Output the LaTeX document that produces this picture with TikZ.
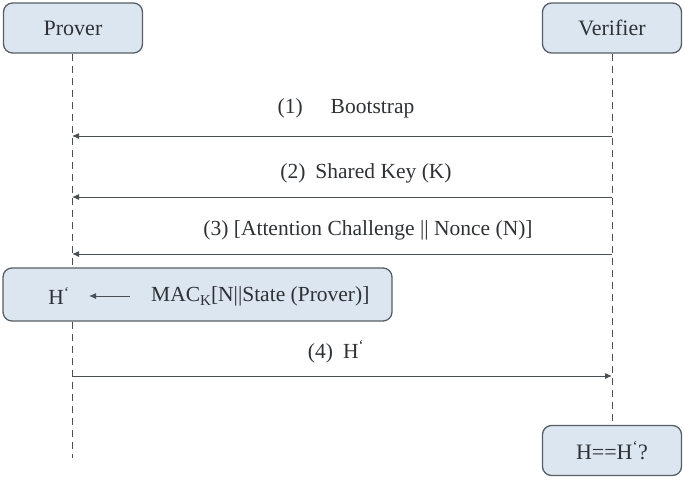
\documentclass[tikz,border=0pt]{standalone}
\usepackage{fontspec}
\setmainfont{Liberation Serif}
\usetikzlibrary{arrows.meta}
\definecolor{boxfill}{HTML}{DCE6F0}
\definecolor{boxline}{HTML}{575E66}
\definecolor{arrline}{HTML}{4A4F55}
\definecolor{txt}{HTML}{2E3135}
\begin{document}
\begin{tikzpicture}[x=1pt,y=-1pt,
  actor/.style={draw=boxline,fill=boxfill,line width=1.3pt,rounded corners=9pt,minimum width=139pt,minimum height=50pt,font=\fontsize{22}{26}\selectfont,text=txt,inner sep=0pt},
  life/.style={draw=arrline,line width=1pt,dash pattern=on 7pt off 5pt},
  msg/.style={draw=arrline,line width=1pt,-{Latex[length=7pt,width=6pt]}},
  lbl/.style={font=\fontsize{21.5}{25}\selectfont,text=txt,inner sep=0pt}]
\useasboundingbox (0,0) rectangle (685,479);
\node[actor] (prover) at (73,28) {Prover};
\node[actor] (verifier) at (612,28) {Verifier};
\node[actor,minimum width=389pt,minimum height=53pt] (mac) at (197.5,294.5) {};
\node[actor] (check) at (612,450.5) {H==H\textsuperscript{`}?};
\coordinate (pl) at (72,458);
\coordinate (p1) at (72,136);
\coordinate (v1) at (612,136);
\coordinate (p2) at (72,197);
\coordinate (v2) at (612,197);
\coordinate (p3) at (72,254);
\coordinate (v3) at (612,254);
\coordinate (p4) at (72,376);
\coordinate (v4) at (612,376);
\draw[life] (prover.south -| pl) -- (mac.north -| pl);
\draw[life] (mac.south -| pl) -- (pl);
\draw[life] (verifier.south) -- (check.north);
\draw[msg] (v1) -- (p1);
\draw[msg] (v2) -- (p2);
\draw[msg] (v3) -- (p3);
\draw[msg] (p4) -- (v4);
\node[lbl] (l1) at (346,108) {(1)\hspace{28pt}Bootstrap};
\node[lbl] (l2) at (366,173) {(2)\hspace{10pt}Shared Key (K)};
\node[lbl] (l3) at (368,230) {(3) [Attention Challenge || Nonce (N)]};
\node[lbl] (l4) at (336,352) {(4)\hspace{10pt}H\textsuperscript{`}};
\node[lbl] (hp) at (59,296) {H\textsuperscript{`}};
\node[lbl,anchor=west] (mt) at (151,296) {MAC\raisebox{-0.45ex}{\fontsize{15}{18}\selectfont K}[N||State (Prover)]};
\coordinate (a1) at (130,296);
\coordinate (a2) at (89,296);
\draw[msg] (a1) -- (a2);
\end{tikzpicture}
\end{document}
